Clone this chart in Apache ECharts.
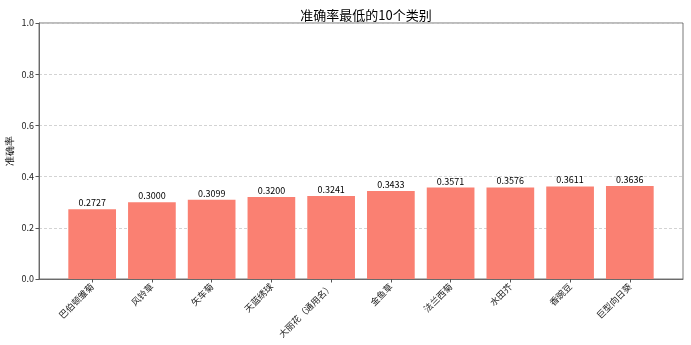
<!DOCTYPE html>
<html><head><meta charset="utf-8">
<script src="https://cdn.jsdelivr.net/npm/echarts@6/dist/echarts.min.js"></script>
<style>html,body{margin:0;padding:0;background:#fff}#c{width:691px;height:345px}</style>
</head><body><div id="c"></div>
<script>
const categories = ['巴伯顿雏菊','风铃草','矢车菊','天蓝绣球','大丽花（通用名）','金鱼草','法兰西菊','水田芥','香豌豆','巨型向日葵'];
const accuracy = [0.2727,0.3000,0.3099,0.3200,0.3241,0.3433,0.3571,0.3576,0.3611,0.3636];
const yTicks = [0,0.2,0.4,0.6,0.8,1.0];
const titleText = '准确率最低的10个类别';
const yName = '准确率';

const FONT = '"Noto Sans CJK SC","Noto Sans",sans-serif';
const chart = echarts.init(document.getElementById('c'), null, {renderer:'canvas'});
const idx = categories.map((_, i) => i);
chart.setOption({
  animation:false,
  textStyle:{fontFamily:FONT},
  title:{text:titleText,left:361,top:4,textAlign:'center',textStyle:{fontSize:13,fontWeight:'normal',color:'#000',fontFamily:FONT}},
  graphic:[{type:'text',x:10,y:151,rotation:Math.PI/2,
    style:{text:yName,fontSize:10,fill:'#000',font:'10px '+FONT,textAlign:'center',textVerticalAlign:'middle'}}],
  grid:{left:39,right:8,top:23,bottom:66,outerBoundsMode:'none',containLabel:false,show:true,borderColor:'#555',borderWidth:0.8,backgroundColor:'transparent'},
  xAxis:{type:'value',min:-0.89,max:9.89,
    axisLine:{show:true,onZero:false,lineStyle:{color:'#555',width:0.8}},
    axisTick:{show:true,length:3.5,customValues:idx,lineStyle:{color:'#555'}},
    axisLabel:{customValues:idx,rotate:45,fontSize:9,color:'#222',margin:6,formatter:v=>categories[Math.round(v)]},
    splitLine:{show:false}},
  yAxis:{type:'value',min:0,max:1,interval:0.2,
    axisLine:{show:true,onZero:false,lineStyle:{color:'#555',width:0.8}},
    axisTick:{show:true,length:3.5,lineStyle:{color:'#555'}},
    axisLabel:{fontSize:9,color:'#222',margin:5,formatter:v=>v.toFixed(1)},
    splitLine:{show:true,lineStyle:{color:'#c8c8c8',type:[3,2],width:0.8}}},
  series:[{type:'bar',barWidth:47.7,
    data:accuracy.map((v,i)=>[i,v]),
    itemStyle:{color:'#FA8072'},
    label:{show:true,position:'top',distance:2,fontSize:9,color:'#000',formatter:p=>p.value[1].toFixed(4)}}]
});
</script></body></html>
